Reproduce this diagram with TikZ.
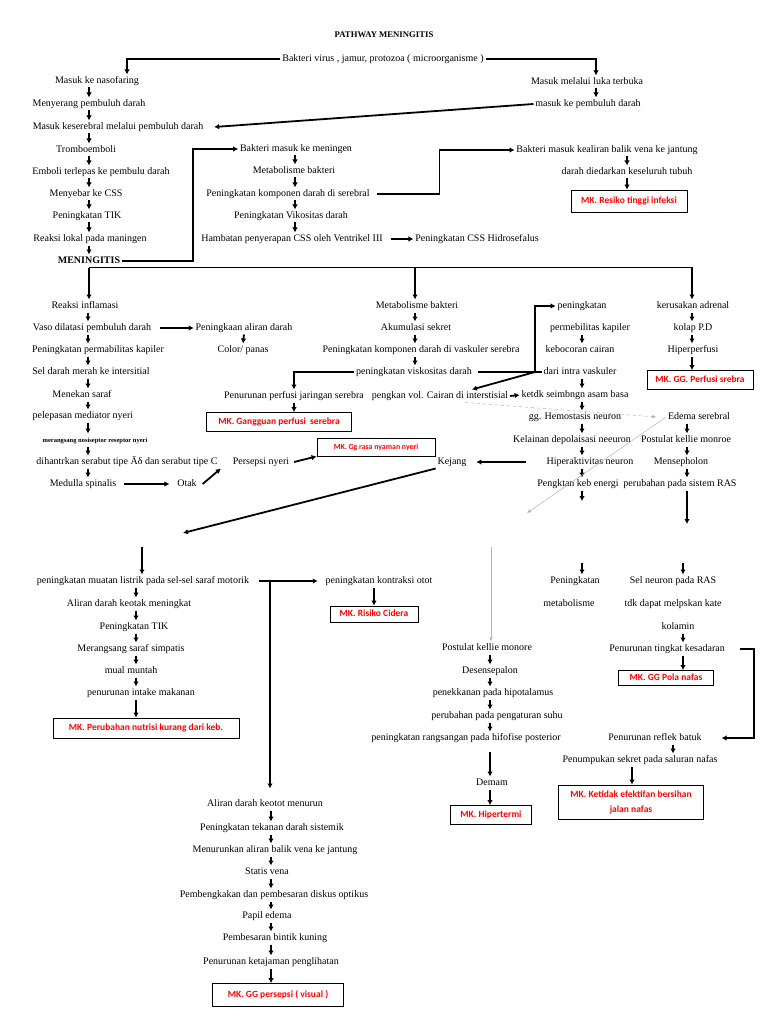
\documentclass[tikz,border=0pt]{standalone}
\usepackage{fontspec}
\setmainfont{Liberation Serif}
\newfontfamily\mkfont{Carlito}
\usepackage{tikz}
\usetikzlibrary{arrows.meta}

\begin{document}
\begin{tikzpicture}[x=1pt, y=-1pt, line width=1.8pt, >={Latex[length=5pt, width=5.5pt]},
    every node/.style={inner sep=1pt, text height=7pt, text depth=2.2pt, font=\fontsize{10}{12}\selectfont},
    mk/.style={draw, line width=0.8pt, text=red, font=\mkfont\bfseries\fontsize{9.5}{11}\selectfont},
    faint/.style={draw=black!30, line width=0.5pt, >={Latex[length=4pt, width=3.5pt]}}]
                \useasboundingbox (0, 0) rectangle (768, 1024);
                \coordinate (c1) at (89, 0);
                \coordinate (c2) at (295, 0);
                \coordinate (c3) at (596, 0);
                \coordinate (c4) at (627, 0);
                \coordinate (d1) at (88, 0);
                \coordinate (d2) at (415, 0);
                \coordinate (d3) at (582, 0);
                \coordinate (d4) at (692, 0);
                \coordinate (d5) at (687, 0);
                \coordinate (e1) at (136, 0);
                \coordinate (e2) at (271, 0);
                \coordinate (e3) at (490, 0);
                \coordinate (e4) at (683, 0);
                \coordinate (e5) at (673, 0);
                \coordinate (e6) at (632, 0);
                \coordinate (J) at (535, 372);
                \coordinate (J2) at (270, 581);
                \coordinate (G0) at (183, 533);
                \coordinate (G1) at (582, 501);
                \coordinate (G2) at (582, 563);
                \coordinate (G3) at (687, 524);
                \coordinate (G4) at (683, 563);
                \coordinate (G5) at (527, 513);
                \coordinate (G6) at (491, 547);
                \coordinate (G7) at (142, 547);

                \node[font=\bfseries\fontsize{8.7}{10}\selectfont] (T) at (384, 35) {PATHWAY MENINGITIS};
                \node (BV) at (383, 59) {Bakteri virus , jamur, protozoa ( microorganisme )};

                \node (L1) at (97, 81) {Masuk ke nasofaring};
                \node (L2) at (89, 104) {Menyerang pembuluh darah};
                \node (L3) at (118, 127) {Masuk keserebral melalui pembuluh darah};
                \node (L4) at (86, 150) {Tromboemboli};
                \node (L5) at (101, 172) {Emboli terlepas ke pembulu darah};
                \node (L6) at (86, 194) {Menyebar ke CSS};
                \node (L7) at (87, 216) {Peningkatan TIK};
                \node (L8) at (90, 239) {Reaksi lokal pada maningen};
                \node[font=\bfseries\fontsize{10}{12}\selectfont] (M) at (89, 261) {MENINGITIS};

                \node (R1) at (587, 82) {Masuk melalui luka terbuka};
                \node (R2) at (588, 104) {masuk ke pembuluh darah};
                \node (R3) at (607, 150) {Bakteri masuk kealiran balik vena ke jantung};
                \node (R4) at (627, 172) {darah diedarkan keseluruh tubuh};
                \node[mk, minimum width=116pt, minimum height=22pt] (K1) at (629, 201) {MK. Resiko tinggi infeksi};

                \node (C1) at (296, 149) {Bakteri masuk ke meningen};
                \node (C2) at (294, 171) {Metabolisme bakteri};
                \node (C3) at (288, 194) {Peningkatan komponen darah di serebral};
                \node (C4) at (291, 216) {Peningkatan Vikositas darah};
                \node (C5) at (292, 239) {Hambatan penyerapan CSS oleh Ventrikel III};
                \node (C6) at (477, 239) {Peningkatan CSS Hidrosefalus};

                \node (D1) at (85, 306) {Reaksi inflamasi};
                \node (D2) at (92, 328) {Vaso dilatasi pembuluh darah};
                \node (D3) at (98, 350) {Peningkatan permabilitas kapiler};
                \node (D4) at (91, 372) {Sel darah merah ke intersitial};
                \node (D5) at (82, 395) {Menekan saraf};
                \node (D6) at (83, 416) {pelepasan mediator nyeri};
                \node[font=\bfseries\fontsize{6.5}{7}\selectfont] (D7) at (95, 440) {merangsang nosiseptor reseptor nyeri};
                \node (D8) at (127, 462) {dihantrkan serabut tipe Āδ dan serabut tipe C};
                \node (D9) at (83, 484) {Medulla spinalis};
                \node (D10) at (187, 484) {Otak};
                \node (D11) at (261, 462) {Persepsi nyeri};
                \node[mk, font=\mkfont\bfseries\fontsize{7.8}{9}\selectfont, minimum width=118pt, minimum height=18pt] (K3) at (376, 447) {MK. Gg rasa nyaman nyeri};
                \node (D12) at (244, 328) {Peningkaan aliran darah};
                \node (D13) at (243, 350) {Color/ panas};

                \node (E1) at (417, 306) {Metabolisme bakteri};
                \node (E2) at (416, 328) {Akumulasi sekret};
                \node (E3) at (421, 350) {Peningkatan komponen darah di vaskuler serebra};
                \node (E4) at (414, 372) {peningkatan viskositas darah};
                \node (E5) at (294, 396) {Penurunan perfusi jaringan serebra};
                \node[mk, minimum width=145pt, minimum height=19pt] (K2) at (279, 422) {MK. Gangguan perfusi~ serebra};
                \node (E6) at (440, 396) {pengkan vol. Cairan di interstisial};

                \node (F1) at (582, 306) {peningkatan};
                \node (F2) at (590, 328) {permebilitas kapiler};
                \node (F3) at (580, 350) {kebocoran cairan};
                \node (F4) at (580, 372) {dari intra vaskuler};
                \node (F5) at (575, 395) {ketdk seimbngn asam basa};
                \node (F6) at (575, 417) {gg. Hemostasis neuron};
                \node (F7) at (572, 440) {Kelainan depolaisasi neeuron};
                \node (F8) at (590, 462) {Hiperaktivitas neuron};
                \node (F9) at (578, 484) {Pengktan keb energi};
                \node (F10) at (452, 462) {Kejang};

                \node (A4) at (693, 306) {kerusakan adrenal};
                \node (A5) at (693, 328) {kolap P.D};
                \node (A6) at (693, 350) {Hiperperfusi};
                \node[mk, minimum width=106pt, minimum height=19pt] (K4) at (700, 380) {MK. GG. Perfusi srebra};

                \node (Q1) at (699, 417) {Edema serebral};
                \node (Q2) at (686, 440) {Postulat kellie monroe};
                \node (Q3) at (681, 462) {Mensepholon};
                \node (Q4) at (680, 484) {perubahan pada sistem RAS};

                \node (P1) at (143, 581) {peningkatan muatan listrik pada sel-sel saraf motorik};
                \node (P2) at (129, 604) {Aliran darah keotak meningkat};
                \node (P3) at (134, 627) {Peningkatan TIK};
                \node (P4) at (131, 649) {Merangsang saraf simpatis};
                \node (P5) at (131, 671) {mual muntah};
                \node (P6) at (141, 693) {penurunan intake makanan};
                \node[mk, minimum width=186pt, minimum height=20pt] (K5) at (146, 728) {MK. Perubahan nutrisi kurang dari keb.};
                \node (P7) at (379, 581) {peningkatan kontraksi otot};
                \node[mk, minimum width=88pt, minimum height=16pt] (K6) at (374, 614) {MK. Risiko Cidera};

                \node (W1) at (265, 804) {Aliran darah keotot menurun};
                \node (W2) at (272, 828) {Peningkatan tekanan darah sistemik};
                \node (W3) at (275, 850) {Menurunkan aliran balik vena ke jantung};
                \node (W4) at (267, 872) {Statis vena};
                \node (W5) at (274, 895) {Pembengkakan dan pembesaran diskus optikus};
                \node (W6) at (267, 916) {Papil edema};
                \node (W7) at (275, 938) {Pembesaran bintik kuning};
                \node (W8) at (271, 962) {Penurunan ketajaman penglihatan};
                \node[mk, minimum width=131pt, minimum height=23pt] (K7) at (278, 995) {MK. GG persepsi ( visual )};

                \node (S1) at (487, 648) {Postulat kellie monore};
                \node (S2) at (490, 671) {Desensepalon};
                \node (S3) at (493, 693) {penekkanan pada hipotalamus};
                \node (S4) at (497, 716) {perubahan pada pengaturan suhu};
                \node (S5) at (466, 738) {peningkatan rangsangan pada hifofise posterior};
                \node (S6) at (492, 783) {Demam};
                \node[mk, minimum width=81pt, minimum height=19pt] (K8) at (491, 815) {MK. Hipertermi};

                \node (H1) at (575, 581) {Peningkatan};
                \node (H2) at (569, 604) {metabolisme};
                \node (H3) at (673, 581) {Sel neuron pada RAS};
                \node (H4) at (673, 604) {tdk dapat melpskan kate};
                \node (H5) at (678, 627) {kolamin};
                \node (H6) at (667, 649) {Penurunan tingkat kesadaran};
                \node[mk, minimum width=95pt, minimum height=15pt] (K9) at (666, 678) {MK. GG Pola nafas};
                \node (H7) at (655, 738) {Penurunan reflek batuk};
                \node (H8) at (640, 760) {Penumpukan sekret pada saluran nafas};
                \node[mk, font=\mkfont\bfseries\fontsize{9.5}{15}\selectfont, text height={}, text depth={}, align=center, minimum width=145pt, minimum height=34pt] (K10) at (631, 802) {MK. Ketidak efektifan bersihan\\jalan nafas};

                \draw[->] (BV.west) -| ([xshift=30pt]L1.north);
                \draw[->] (BV.east) -| (R1.north -| c3);
                \draw[->] (L1.south -| c1) -- (L2.north -| c1);
                \draw[->] (L2.south -| c1) -- (L3.north -| c1);
                \draw[->] (L3.south -| c1) -- (L4.north -| c1);
                \draw[->] (L4.south -| c1) -- (L5.north -| c1);
                \draw[->] (L5.south -| c1) -- (L6.north -| c1);
                \draw[->] (L6.south -| c1) -- (L7.north -| c1);
                \draw[->] (L7.south -| c1) -- (L8.north -| c1);
                \draw[->] (L8.south -| c1) -- (M.north -| c1);
                \draw[->] (R1.south -| c3) -- (R2.north -| c3);
                \draw[->] (R2.west) -- ([xshift=9pt]L3.east);

                \draw[->] (M.east) -| ([xshift=-45pt]C1.west) -- (C1.west);
                \draw[->] (C1.south -| c2) -- (C2.north -| c2);
                \draw[->] (C2.south -| c2) -- (C3.north -| c2);
                \draw[->] (C3.south -| c2) -- (C4.north -| c2);
                \draw[->] (C4.south -| c2) -- (C5.north -| c2);
                \draw[->] ([xshift=5pt]C3.east) -| ([xshift=-75pt]R3.west) -- (R3.west);
                \draw[->] ([xshift=6pt]C5.east) -- (C6.west);
                \draw[->] (R3.south -| c4) -- (R4.north -| c4);
                \draw[->] (R4.south -| c4) -- (K1.north -| c4);

                \draw[->] (M.south) -| (A4.north -| d4);
                \draw[->] (M.south) -- (M.south |- D1.north);
                \draw[->] (M.south -| d2) -- (E1.north -| d2);

                \draw[->] (D1.south -| d1) -- (D2.north -| d1);
                \draw[->] (D2.south -| d1) -- (D3.north -| d1);
                \draw[->] (D3.south -| d1) -- (D4.north -| d1);
                \draw[->] (D4.south -| d1) -- (D5.north -| d1);
                \draw[->] (D5.south -| d1) -- (D6.north -| d1);
                \draw[->] (D6.south -| d1) -- (D7.north -| d1);
                \draw[->] (D7.south -| d1) -- (D8.north -| d1);
                \draw[->] (D8.south -| d1) -- (D9.north -| d1);
                \draw[->] ([xshift=7pt]D2.east) -- (D12.west);
                \draw[->] (D12.south) -- (D13.north);
                \draw[->] ([xshift=6pt]D9.east) -- ([xshift=-6pt]D10.west);
                \draw[->] ([xshift=4pt]D10.east) -- ([xshift=-10pt]D11.south west);
                \draw[->] ([xshift=3pt]D11.east) -- (K3.south west);

                \draw[->] (E1.south -| d2) -- (E2.north -| d2);
                \draw[->] (E2.south -| d2) -- (E3.north -| d2);
                \draw[->] (E3.south -| d2) -- (E4.north -| d2);
                \draw[->] (E4.west) -| (E5.north);
                \draw[->] (E5.south) -- (E5.south |- K2.north);
                \draw ([xshift=4pt]E4.east) -- (F4.west);
                \draw[->] (J) |- (F1.west);
                \draw[->] (J) -- ([xshift=-38pt]E6.north east);
                \draw[->] (E6.east) -- (F5.west);

                \draw[->] (F2.south -| d3) -- (F3.north -| d3);
                \draw[->] (F4.south -| d3) -- (F5.north -| d3);
                \draw[->] (F5.south -| d3) -- (F6.north -| d3);
                \draw[->] (F6.south -| d3) -- (F7.north -| d3);
                \draw[->] (F7.south -| d3) -- (F8.north -| d3);
                \draw[->] (F8.south -| d3) -- (F9.north -| d3);
                \draw[->] (F9.south -| d3) -- (G1);
                \draw[->] ([xshift=-19pt]F8.west) -- ([xshift=8pt]F10.east);
                \draw[->] (F10.south west) -- (G0);

                \draw[->] (A4.south -| d4) -- (A5.north -| d4);
                \draw[->] (A5.south -| d4) -- (A6.north -| d4);
                \draw[->] (A6.south -| d4) -- (K4.north -| d4);
                \draw[->] (Q1.south -| d5) -- (Q2.north -| d5);
                \draw[->] (Q2.south -| d5) -- (Q3.north -| d5);
                \draw[->] (Q3.south -| d5) -- (Q4.north -| d5);
                \draw[->] (Q4.south -| d5) -- (G3);

                \draw[faint, dashed, ->] ([xshift=25pt]E6.south) -- ([xshift=-10pt]Q1.west);
                \draw[faint, ->] (Q1.west) -- (G5);
                \draw[faint, ->] (G6) -- (G6 |- S1.north);

                \draw[->] (G7) -- (G7 |- P1.north);
                \draw[->] (P1.south -| e1) -- (P2.north -| e1);
                \draw[->] (P2.south -| e1) -- (P3.north -| e1);
                \draw[->] (P3.south -| e1) -- (P4.north -| e1);
                \draw[->] (P4.south -| e1) -- (P5.north -| e1);
                \draw[->] (P5.south -| e1) -- (P6.north -| e1);
                \draw[->] (P6.south -| e1) -- (K5.north -| e1);
                \draw[->] ([xshift=8pt]P1.east) -- ([xshift=-6pt]P7.west);
                \draw[->] (P7.south -| K6.north) -- (K6.north);
                \draw[->] (J2) -- ([yshift=9pt]J2 |- W1.north);

                \draw[->] (W1.south -| e2) -- (W2.north -| e2);
                \draw[->] (W2.south -| e2) -- (W3.north -| e2);
                \draw[->] (W3.south -| e2) -- (W4.north -| e2);
                \draw[->] (W4.south -| e2) -- (W5.north -| e2);
                \draw[->] (W5.south -| e2) -- (W6.north -| e2);
                \draw[->] (W6.south -| e2) -- (W7.north -| e2);
                \draw[->] (W7.south -| e2) -- (W8.north -| e2);
                \draw[->] (W8.south -| e2) -- (K7.north -| e2);

                \draw[->] (S1.south -| e3) -- (S2.north -| e3);
                \draw[->] (S2.south -| e3) -- (S3.north -| e3);
                \draw[->] (S3.south -| e3) -- (S4.north -| e3);
                \draw[->] (S4.south -| e3) -- (S5.north -| e3);
                \draw[->, shorten <=7pt] (S5.south -| e3) -- (S6.north -| e3);
                \draw[->] (S6.south -| e3) -- (K8.north -| e3);

                \draw[->] (G2) -- (G2 |- H1.north);
                \draw[->] (G4) -- (G4 |- H3.north);
                \draw[->] (H5.south -| e4) -- (H6.north -| e4);
                \draw[->] (H6.south -| e4) -- (K9.north -| e4);
                \draw[->] ([xshift=13pt]H6.east) -- ([xshift=27pt]H6.east) |- ([xshift=18pt]H7.east);
                \draw[->] (H7.south -| e5) -- (H8.north -| e5);
                \draw[->] (H8.south -| e6) -- (K10.north -| e6);
            \end{tikzpicture}
\end{document}
